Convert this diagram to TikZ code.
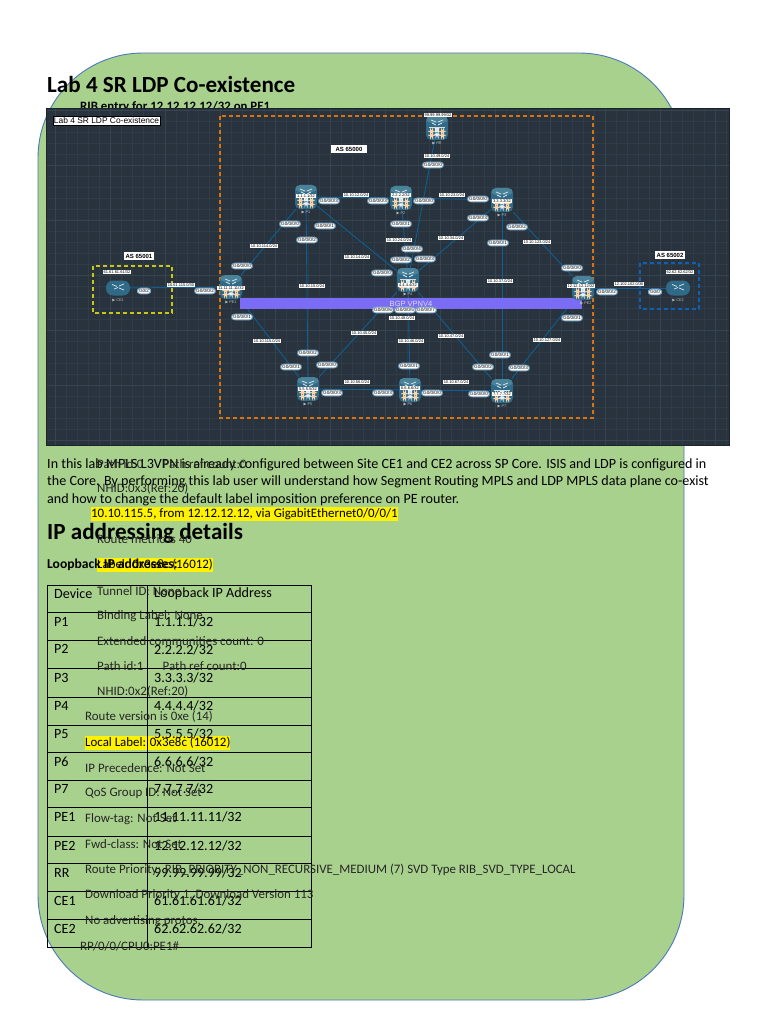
\documentclass[tikz,border=0pt]{standalone}
\usepackage{fontspec}
\usepackage{xcolor}
\usetikzlibrary{backgrounds}
\setmainfont{Carlito}
\newfontfamily\labelfont{Liberation Sans}
\newfontfamily\symfont{DejaVu Sans}

\definecolor{pagegreen}{HTML}{A9D18E}
\definecolor{pageblue}{HTML}{4A78B8}
\definecolor{panel}{HTML}{28333D}
\definecolor{gridminor}{HTML}{2F3B46}
\definecolor{gridmajor}{HTML}{36444F}
\definecolor{linkblue}{HTML}{0F5E94}
\definecolor{routerblue}{HTML}{2F6A88}
\definecolor{routertop}{HTML}{4A8299}
\definecolor{asorange}{HTML}{D9730D}
\definecolor{asyellow}{HTML}{C8C814}
\definecolor{asblue}{HTML}{0F5FB5}
\definecolor{barviolet}{HTML}{7B6CF5}

\newcommand{\routermarks}{%
  \begin{scope}[shift={(path picture bounding box.center)}]
    \fill[routertop] (-11,-12) rectangle (11,-5);
    \draw[white!85!routerblue,line width=0.7pt] (-6,-8) -- (-1,-6) (6,-8) -- (1,-6) (-5,-5) -- (-1,-3) (5,-5) -- (1,-3);
    \fill[white!90!routerblue] (-2,0) rectangle (2,4);
    \draw[white!80!routerblue,line width=0.5pt] (-8,-1) -- (8,-1);
    \fill[orange!35!white] (-7,3) rectangle (-4,4) (4,3) rectangle (7,4) (-7,7) rectangle (-4,8) (4,7) rectangle (7,8);
    \fill[white!90!routerblue] (-1.5,6) rectangle (1.5,7.5);
  \end{scope}}

\tikzset{
  bodytext/.style={anchor=west,inner sep=0pt,yshift=-1pt,font=\fontsize{14.1}{16}\selectfont},
  overtext/.style={anchor=west,inner sep=0pt,font=\fontsize{12.9}{15}\selectfont,text=black!85},
  headtext/.style={anchor=west,inner sep=0pt,font=\fontsize{23.1}{26}\selectfont\bfseries},
  marktext/.style={overtext,text=black,fill=yellow,inner ysep=1.2pt},
  celltext/.style={anchor=west,inner sep=0pt,yshift=-1pt,font=\fontsize{14.1}{16}\selectfont},
  router/.style={fill=routerblue,rounded corners=5pt,minimum width=22pt,minimum height=24pt,inner sep=0pt,path picture={\routermarks}},
  cerouter/.style={fill=routerblue,rounded corners=7pt,minimum width=24pt,minimum height=15pt,inner sep=0pt,path picture={%
    \draw[white!85!routerblue,line width=0.7pt,shift={(path picture bounding box.center)}] (-6,-3.5) -- (-1,-1.5) (1,-2) -- (6,-4) (-4,1) -- (0,-0.5) (1,0) -- (6,2);}},
  devname/.style={text=white!75!black,inner sep=0pt,font=\labelfont\fontsize{3.8}{4}\selectfont},
  pill/.style={draw=linkblue!55!white,line width=0.8pt,fill=white,text=black,rounded corners=3pt,inner xsep=1.5pt,inner ysep=1.2pt,font=\labelfont\fontsize{4.6}{5}\selectfont},
  subnet/.style={fill=white,text=black,inner xsep=1pt,inner ysep=1pt,font=\labelfont\fontsize{4}{4.5}\selectfont},
  asname/.style={fill=white,text=black,inner xsep=2pt,inner ysep=1.5pt,font=\labelfont\fontsize{6}{7}\selectfont\bfseries},
  link/.style={draw=linkblue,line width=0.9pt},
  asbox/.style={dashed,dash pattern=on 4pt off 3pt,line width=1.2pt}
}

\begin{document}
\begin{tikzpicture}[x=1pt,y=-1pt]
    \useasboundingbox (0,0) rectangle (768,1024);

    % Routers
    \node[router] (rr) at (437,128) {};
    \node[router] (p1) at (306,197) {};
    \node[router] (p2) at (401,198) {};
    \node[router] (p3) at (502,200) {};
    \node[router] (p4) at (408,280) {};
    \node[router] (pe1) at (231,287) {};
    \node[router] (pe2) at (583,288) {};
    \node[router] (p5) at (308,389) {};
    \node[router] (p6) at (410,390) {};
    \node[router] (p7) at (502,391) {};
    \node[cerouter] (ce1) at (118,288) {};
    \node[cerouter] (ce2) at (678,288) {};

    \begin{scope}[on background layer]
        % Page shape
        \draw[fill=pagegreen,draw=pageblue,line width=0.9pt,rounded corners=105pt] (38,53) rectangle (684,1000);
        \node[anchor=west,inner sep=0pt,font=\fontsize{12.8}{15}\selectfont\bfseries] (ribtitle) at (80,107) {RIB entry for 12.12.12.12/32 on PE1};

        % Panel
        \fill[panel] (46,108) rectangle (729,445);
        \draw[gridminor,line width=0.3pt,step=11pt] (46,108) grid (729,445);
        \draw[gridmajor,line width=0.4pt,step=55pt] (46,108) grid (729,445);
        \draw[panel!70!black,line width=0.6pt] (46,108) rectangle (729,445);

        % AS boxes
        \draw[asbox,asorange] (220,116) rectangle (593,418);
        \draw[asbox,asyellow] (93,266) rectangle (172,313);
        \draw[asbox,asblue] (640,263) rectangle (699,309);

        % Links
        \draw[link] (p1) -- (p2);
        \draw[link] (p2) -- (p3);
        \draw[link] (rr) -- (p4);
        \draw[link] (p1) -- (pe1);
        \draw[link] (p1) -- (p4);
        \draw[link] (p1) -- (p5);
        \draw[link] (p2) -- (p4);
        \draw[link] (p3) -- (p4);
        \draw[link] (p3) -- (pe2);
        \draw[link] (p3) -- (p7);
        \draw[link] (pe1) -- (ce1);
        \draw[link] (pe1) -- (p5);
        \draw[link] (p5) -- (p4);
        \draw[link] (p5) -- (p6);
        \draw[link] (p4) -- (p6);
        \draw[link] (p4) -- (p7);
        \draw[link] (p6) -- (p7);
        \draw[link] (p7) -- (pe2);
        \draw[link] (pe2) -- (ce2);

        % VPN bar
        \node[fill=barviolet,text=white!75!barviolet,minimum width=342pt,minimum height=11pt,inner sep=0pt,font=\labelfont\fontsize{7.5}{8}\selectfont] (vpnbar) at (411,303.5) {BGP VPNV4};
    \end{scope}

    % Device names
    \node[devname] (rrname) at (437,143) {{\symfont ▶} RR};
    \node[devname] (p1name) at (306,212) {{\symfont ▶} P1};
    \node[devname] (p2name) at (401,213) {{\symfont ▶} P2};
    \node[devname] (p3name) at (502,215) {{\symfont ▶} P3};
    \node[devname] (p4name) at (408,294) {{\symfont ▶} P4};
    \node[devname] (pe1name) at (231,302) {{\symfont ▶} PE1};
    \node[devname] (pe2name) at (586,303) {{\symfont ▶} PE2};
    \node[devname] (p5name) at (308,404) {{\symfont ▶} P5};
    \node[devname] (p6name) at (408,404) {{\symfont ▶} P6};
    \node[devname] (p7name) at (502,406) {{\symfont ▶} P7};
    \node[devname] (ce1name) at (118,300) {{\symfont ▶} CE1};
    \node[devname] (ce2name) at (678,300) {{\symfont ▶} CE2};

    % Loopbacks
    \node[subnet] (rrip) at (438,115) {99.99.99.99/32};
    \node[subnet] (p1ip) at (306,196) {1.1.1.1/32};
    \node[subnet] (p2ip) at (401,195) {2.2.2.2/32};
    \node[subnet] (p3ip) at (502,201) {3.3.3.3/32};
    \node[subnet] (p4ip) at (408,285) {4.4.4.4/32};
    \node[subnet] (pe1ip) at (231,288) {11.11.11.11/32};
    \node[subnet] (pe2ip) at (581,286) {12.12.12.12/32};
    \node[subnet] (p5ip) at (308,389) {5.5.5.5/32};
    \node[subnet] (p6ip) at (410,388) {6.6.6.6/32};
    \node[subnet] (p7ip) at (502,394) {7.7.7.7/32};
    \node[subnet] (ce1ip) at (117,272) {61.61.61.61/32};
    \node[subnet] (ce2ip) at (680,272) {62.62.62.62/32};

    % Interfaces
    \node[pill] (p1g3) at (329,201) {G0/0/0/3};
    \node[pill] (p2g3) at (378,201) {G0/0/0/3};
    \node[pill] (p1g0) at (290,224) {G0/0/0/0};
    \node[pill] (p1g1) at (325,226) {G0/0/0/1};
    \node[pill] (p1g2) at (307,240) {G0/0/0/2};
    \node[pill] (pe1g0) at (242,266) {G0/0/0/0};
    \node[pill] (p4g0) at (382,273) {G0/0/0/0};
    \node[pill] (p2g0) at (424,201) {G0/0/0/0};
    \node[pill] (p3g0) at (478,199) {G0/0/0/0};
    \node[pill] (rrg0) at (433,165) {G0/0/0/0};
    \node[pill] (p2g1) at (401,224) {G0/0/0/1};
    \node[pill] (p4g4) at (412,249) {G0/0/0/4};
    \node[pill] (p4g2) at (401,260) {G0/0/0/2};
    \node[pill] (p4g3) at (425,259) {G0/0/0/3};
    \node[pill] (p3g3) at (478,218) {G0/0/0/3};
    \node[pill] (p3g1) at (498,243) {G0/0/0/1};
    \node[pill] (p3g2) at (517,227) {G0/0/0/2};
    \node[pill] (pe2g0) at (572,268) {G0/0/0/0};
    \node[pill] (ce1g0) at (144,291) {G0/2};
    \node[pill] (pe1g2) at (205,291) {G0/0/0/2};
    \node[pill] (pe1g1) at (242,317) {G0/0/0/1};
    \node[pill] (p5g1) at (291,367) {G0/0/0/1};
    \node[pill] (p5g2) at (308,353) {G0/0/0/2};
    \node[pill] (p5g0) at (327,365) {G0/0/0/0};
    \node[pill] (p4g6) at (383,310) {G0/0/0/6};
    \node[pill] (p5g3) at (332,393) {G0/0/0/3};
    \node[pill] (p6g3) at (383,393) {G0/0/0/3};
    \node[pill] (p4g5) at (405,310) {G0/0/0/5};
    \node[pill] (p4g7) at (426,310) {G0/0/0/7};
    \node[pill] (p6g1) at (409,366) {G0/0/0/1};
    \node[pill] (p6g0) at (432,393) {G0/0/0/0};
    \node[pill] (p7g0) at (479,394) {G0/0/0/0};
    \node[pill] (p7g2) at (483,367) {G0/0/0/2};
    \node[pill] (p7g1) at (500,355) {G0/0/0/1};
    \node[pill] (p7g3) at (519,368) {G0/0/0/3};
    \node[pill] (pe2g1) at (572,318) {G0/0/0/1};
    \node[pill] (pe2g2) at (607,292) {G0/0/0/2};
    \node[pill] (ce2g0) at (655,292) {G0/0};

    % Subnets
    \node[subnet] (net12) at (356,195) {10.10.12.0/24};
    \node[subnet] (net114) at (264,246) {10.10.114.0/24};
    \node[subnet] (net14) at (357,257) {10.10.14.0/24};
    \node[subnet] (net23) at (452,195) {10.10.23.0/24};
    \node[subnet] (net49) at (437,156) {10.10.49.0/24};
    \node[subnet] (net24) at (399,240) {10.10.24.0/24};
    \node[subnet] (net34) at (451,238) {10.10.34.0/24};
    \node[subnet] (net123) at (537,242) {10.10.123.0/24};
    \node[subnet] (net37) at (500,281) {10.10.37.0/24};
    \node[subnet] (net15) at (312,286) {10.10.15.0/24};
    \node[subnet] (netce1) at (181,285) {10.61.115.0/30};
    \node[subnet] (net115) at (267,341) {10.10.115.0/24};
    \node[subnet] (net45) at (364,333) {10.10.45.0/24};
    \node[subnet] (net56) at (357,382) {10.10.56.0/24};
    \node[subnet] (net48) at (402,318) {10.10.48.0/24};
    \node[subnet] (net46) at (411,341) {10.10.46.0/24};
    \node[subnet] (net67) at (456,382) {10.10.67.0/24};
    \node[subnet] (net47) at (451,336) {10.10.47.0/24};
    \node[subnet] (net127) at (547,340) {10.10.127.0/24};
    \node[subnet] (netce2) at (629,284) {12.102.102.0/30};

    % Panel titles
    \node[fill=white,draw=black,line width=0.2pt,inner xsep=1pt,inner ysep=1.5pt,font=\labelfont\fontsize{8.4}{9}\selectfont] (labname) at (106.5,120.5) {Lab 4 SR LDP Co-existence};
    \node[asname,inner xsep=5pt] (as0) at (349,149) {AS 65000};
    \node[asname] (as1) at (139,256) {AS 65001};
    \node[asname] (as2) at (670,255) {AS 65002};

    % Highlighted output, under the headings and the table
    \node[marktext] (hop1) at (91,514) {10.10.115.5, from 12.12.12.12, via GigabitEthernet0/0/0/1};
    \node[marktext] (label1) at (97,565) {Label: 0x3e8c (16012)};
    \node[marktext] (label2) at (85,743) {Local Label: 0x3e8c (16012)};

    % Headings and intro
    \node[headtext] (title) at (47,84) {Lab 4 SR LDP Co-existence};
    \node[bodytext] (intro1) at (47,464) {In this lab MPLS L3VPN is already configured between Site CE1 and CE2 across SP Core. ISIS and LDP is configured in};
    \node[bodytext] (intro2) at (47,481) {the Core. By performing this lab user will understand how Segment Routing MPLS and LDP MPLS data plane co-exist};
    \node[bodytext] (intro3) at (47,499) {and how to change the default label imposition preference on PE router.};
    \node[headtext] (iphead) at (47,533) {IP addressing details};
    \node[anchor=west,inner sep=0pt,font=\fontsize{13.6}{16}\selectfont\bfseries] (loophead) at (47,565) {Loopback IP addresses:};

    % Table
    \draw[black,line width=0.8pt] (47,585) rectangle (311.5,947);
    \draw[black,line width=0.8pt] (147,585) -- (147,947);
    \draw[black,line width=0.8pt] (47,612) -- (311.5,612);
    \draw[black,line width=0.8pt] (47,640) -- (311.5,640);
    \draw[black,line width=0.8pt] (47,668) -- (311.5,668);
    \draw[black,line width=0.8pt] (47,697) -- (311.5,697);
    \draw[black,line width=0.8pt] (47,725) -- (311.5,725);
    \draw[black,line width=0.8pt] (47,752.5) -- (311.5,752.5);
    \draw[black,line width=0.8pt] (47,780) -- (311.5,780);
    \draw[black,line width=0.8pt] (47,807) -- (311.5,807);
    \draw[black,line width=0.8pt] (47,836) -- (311.5,836);
    \draw[black,line width=0.8pt] (47,863) -- (311.5,863);
    \draw[black,line width=0.8pt] (47,891) -- (311.5,891);
    \draw[black,line width=0.8pt] (47,919) -- (311.5,919);

    \node[celltext] (devhead) at (54,593) {Device};
    \node[celltext] (iptitle) at (154,593) {Loopback IP Address};
    \node[celltext] (dev1) at (54,621) {P1};
    \node[celltext] (ip1) at (154,621) {1.1.1.1/32};
    \node[celltext] (dev2) at (54,648) {P2};
    \node[celltext] (ip2) at (154,649) {2.2.2.2/32};
    \node[celltext] (dev3) at (54,677) {P3};
    \node[celltext] (ip3) at (154,677) {3.3.3.3/32};
    \node[celltext] (dev4) at (54,705) {P4};
    \node[celltext] (ip4) at (154,705) {4.4.4.4/32};
    \node[celltext] (dev5) at (54,733) {P5};
    \node[celltext] (ip5) at (154,733) {5.5.5.5/32};
    \node[celltext] (dev6) at (54,761) {P6};
    \node[celltext] (ip6) at (154,761) {6.6.6.6/32};
    \node[celltext] (dev7) at (54,788) {P7};
    \node[celltext] (ip7) at (154,788) {7.7.7.7/32};
    \node[celltext] (dev8) at (54,816) {PE1};
    \node[celltext] (ip8) at (154,816) {11.11.11.11/32};
    \node[celltext] (dev9) at (54,845) {PE2};
    \node[celltext] (ip9) at (154,845) {12.12.12.12/32};
    \node[celltext] (dev10) at (54,872) {RR};
    \node[celltext] (ip10) at (154,872) {99.99.99.99/32};
    \node[celltext] (dev11) at (54,900) {CE1};
    \node[celltext] (ip11) at (154,900) {61.61.61.61/32};
    \node[celltext] (dev12) at (54,928) {CE2};
    \node[celltext] (ip12) at (154,928) {62.62.62.62/32};

    % Router output lying over the page
    \node[overtext] (path0) at (97,464) {Path id:0\hspace{1.5em}Path ref count:0};
    \node[overtext] (nhid3) at (97,489) {NHID:0x3(Ref:20)};
    \node[overtext] (metric) at (97,539) {Route metric is 40};
    \node[overtext] (tunnel) at (97,591) {Tunnel ID: None};
    \node[overtext] (binding) at (97,616) {Binding Label: None};
    \node[overtext] (extcomm) at (97,641) {Extended communities count: 0};
    \node[overtext] (path1) at (97,666) {Path id:1\hspace{1.5em}Path ref count:0};
    \node[overtext] (nhid2) at (97,692) {NHID:0x2(Ref:20)};
    \node[overtext] (version) at (85,717) {Route version is 0xe (14)};
    \node[overtext] (ipprec) at (85,768) {IP Precedence: Not Set};
    \node[overtext] (qos) at (85,793) {QoS Group ID: Not Set};
    \node[overtext] (flowtag) at (85,819) {Flow-tag: Not Set};
    \node[overtext] (fwdclass) at (85,844) {Fwd-class: Not Set};
    \node[overtext] (priority) at (85,870) {Route Priority: RIB\_PRIORITY\_NON\_RECURSIVE\_MEDIUM (7) SVD Type RIB\_SVD\_TYPE\_LOCAL};
    \node[overtext] (download) at (85,895) {Download Priority 1, Download Version 113};
    \node[overtext] (protos) at (85,921) {No advertising protos.};
    \node[overtext] (prompt) at (80,946) {RP/0/0/CPU0:PE1\#};
\end{tikzpicture}
\end{document}
